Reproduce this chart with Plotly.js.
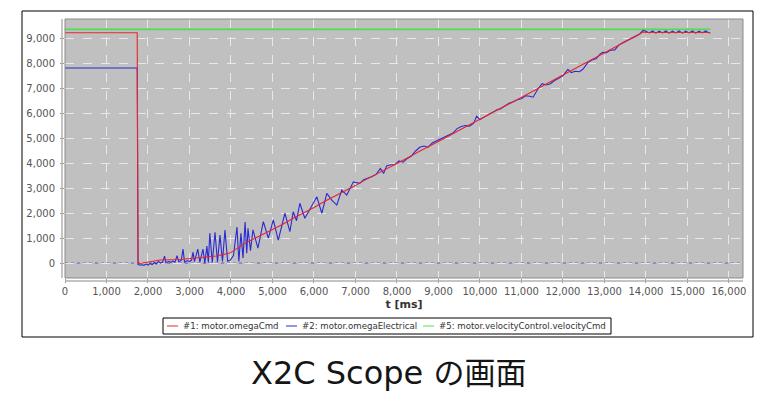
<!DOCTYPE html>
<html>
<head>
<meta charset="utf-8">
<script src="https://cdn.plot.ly/plotly-3.0.1.min.js"></script>
<style>
html,body{margin:0;padding:0;background:#fff;}
#chart{width:768px;height:395px;}
</style>
</head>
<body>
<div id="chart"></div>
<script>
// Series names
const seriesNames = ["#1: motor.omegaCmd", "#2: motor.omegaElectrical", "#5: motor.velocityControl.velocityCmd"];
const seriesColors = ['#e8242c', '#2a2ad0', '#52dc52'];

// #1 omegaCmd (red)
const cmdT = [0, 1740, 1760, 1850, 2050, 2290, 2770, 3170, 3650, 3975, 4300, 4700, 5000, 5250, 5500, 5750, 6000, 6250, 6500, 6750, 7000, 7250, 7500, 7750, 8000, 8250, 8500, 8750, 9000, 9250, 9500, 9750, 10000, 10250, 10500, 10750, 11000, 11250, 11500, 11750, 12000, 12250, 12500, 12750, 13000, 13250, 13500, 13750, 13930, 14000, 14500, 15000, 15550];
const cmdV = [9250, 9250, -20, -10, 50, 120, 140, 215, 280, 400, 760, 1100, 1350, 1560, 1800, 2010, 2230, 2470, 2680, 2900, 3110, 3350, 3560, 3790, 4010, 4220, 4450, 4660, 4890, 5100, 5330, 5560, 5780, 6000, 6220, 6430, 6660, 6880, 7110, 7330, 7550, 7770, 8000, 8210, 8440, 8660, 8890, 9100, 9280, 9260, 9260, 9255, 9260];

// #2 omegaElectrical (blue)
const elecT = [0, 1740, 1760, 1800, 1850, 1900, 1950, 2000, 2050, 2100, 2150, 2200, 2250, 2300, 2350, 2400, 2430, 2500, 2550, 2600, 2650, 2700, 2740, 2800, 2845, 2880, 2950, 3000, 3050, 3085, 3120, 3200, 3250, 3325, 3370, 3420, 3455, 3490, 3550, 3615, 3675, 3735, 3795, 3855, 3920, 3975, 4060, 4145, 4190, 4240, 4290, 4340, 4380, 4410, 4470, 4530, 4650, 4780, 4900, 5020, 5140, 5300, 5420, 5500, 5580, 5660, 5780, 5950, 6070, 6190, 6310, 6430, 6550, 6670, 6790, 6950, 7100, 7200, 7300, 7400, 7500, 7600, 7680, 7750, 7850, 7950, 8050, 8150, 8250, 8350, 8450, 8550, 8650, 8750, 8850, 8950, 9050, 9150, 9250, 9350, 9450, 9550, 9650, 9750, 9850, 9920, 10000, 10100, 10200, 10300, 10400, 10500, 10600, 10700, 10800, 10900, 11000, 11100, 11200, 11280, 11400, 11500, 11600, 11700, 11800, 11900, 12000, 12120, 12200, 12300, 12400, 12480, 12600, 12700, 12800, 12900, 12960, 13050, 13150, 13250, 13350, 13450, 13550, 13650, 13750, 13850, 13930, 14000, 14080, 14160, 14240, 14320, 14400, 14480, 14560, 14640, 14720, 14800, 14880, 14960, 15040, 15120, 15200, 15280, 15360, 15440, 15520, 15550];
const elecV = [7830, 7830, -60, -80, -70, -90, -40, -80, -20, -60, 20, -40, 60, 0, 40, 280, 20, 60, 30, 80, 40, 300, 60, 100, 560, 40, 100, 60, 120, 440, 60, 560, 40, 560, 0, 680, 20, 1200, 20, 1240, 40, 1120, 60, 1330, 80, 100, 300, 1450, 60, 1200, 200, 1650, 400, 1400, 500, 1330, 600, 1660, 1000, 1730, 920, 2000, 1260, 2060, 1700, 2400, 1800, 2330, 2660, 2000, 2800, 2530, 2330, 2930, 2730, 3260, 3200, 3350, 3400, 3480, 3560, 3800, 3600, 3900, 3950, 3950, 4100, 4050, 4200, 4300, 4500, 4650, 4700, 4650, 4820, 4900, 4950, 5060, 5130, 5220, 5400, 5480, 5520, 5500, 5620, 5900, 5760, 5860, 5980, 6050, 6150, 6200, 6320, 6420, 6480, 6560, 6600, 6720, 6700, 6660, 7000, 7200, 7150, 7200, 7330, 7420, 7520, 7780, 7650, 7700, 7680, 7780, 8050, 8150, 8200, 8400, 8460, 8450, 8550, 8560, 8760, 8860, 8950, 9020, 9120, 9200, 9340, 9310, 9240, 9320, 9230, 9310, 9240, 9320, 9230, 9310, 9240, 9320, 9230, 9310, 9240, 9320, 9230, 9310, 9240, 9320, 9240, 9250];

// #5 velocityCmd (green)
const velT = [0, 15550];
const velV = [9380, 9380];

const xTickVals = [0,1000,2000,3000,4000,5000,6000,7000,8000,9000,10000,11000,12000,13000,14000,15000,16000];
const yTickVals = [0,1000,2000,3000,4000,5000,6000,7000,8000,9000];

const traces = [
  {x: velT, y: velV, name: seriesNames[2], type: 'scatter', mode: 'lines', line: {color: seriesColors[2], width: 1.7}},
  {x: elecT, y: elecV, name: seriesNames[1], type: 'scatter', mode: 'lines', line: {color: seriesColors[1], width: 1.1}},
  {x: cmdT, y: cmdV, name: seriesNames[0], type: 'scatter', mode: 'lines', line: {color: seriesColors[0], width: 1.1}}
];

// plot area: left 65, right 743, top 19, bottom 278
const L = 65, R = 743, T = 19, B = 278, PW = R - L, PH = B - T;
const px = v => (v - L) / PW;
const py = v => (B - v) / PH;

// hand-drawn legend box (pixel layout)
const legBox = {x0: 163, x1: 611, y0: 318, y1: 334};
const legItems = [
  {lx: 167, tx: 181},
  {lx: 286, tx: 300},
  {lx: 423, tx: 437}
];
const legY = 326;

const shapes = [
  // outer frame
  {type: 'rect', xref: 'paper', yref: 'paper', x0: px(22), x1: px(753), y0: py(337), y1: py(11), line: {color: '#000', width: 1}, layer: 'below'},
  // plot border
  {type: 'rect', xref: 'paper', yref: 'paper', x0: 0, x1: 1, y0: 0, y1: 1, line: {color: '#8a8a8a', width: 1}},
  // offset axis lines
  {type: 'line', xref: 'paper', yref: 'paper', x0: px(62), x1: px(62), y0: 0, y1: 1, line: {color: '#b0b0b0', width: 1.5}},
  {type: 'line', xref: 'paper', yref: 'paper', x0: 0, x1: 1, y0: py(281), y1: py(281), line: {color: '#b0b0b0', width: 1.5}},
  // zero reference line
  {type: 'line', xref: 'paper', yref: 'y', x0: 0, x1: 1, y0: 0, y1: 0, line: {color: '#5a5ad8', width: 1, dash: 'dot'}, layer: 'below'},
  // legend box
  {type: 'rect', xref: 'paper', yref: 'paper', x0: px(legBox.x0), x1: px(legBox.x1), y0: py(legBox.y1), y1: py(legBox.y0), line: {color: '#000', width: 1}, fillcolor: '#fff'}
];
const annotations = [
  {text: 'X2C Scope <span style="font-family:Noto Sans CJK JP;font-size:31px">の画面</span>', xref: 'paper', yref: 'paper', x: px(388), y: py(370), xanchor: 'center', yanchor: 'middle', showarrow: false,
   font: {family: 'DejaVu Sans, sans-serif', size: 32, color: '#151515'}}
];
legItems.forEach((it, i) => {
  shapes.push({type: 'line', xref: 'paper', yref: 'paper', x0: px(it.lx), x1: px(it.lx + 11), y0: py(legY), y1: py(legY), line: {color: seriesColors[i], width: 1}});
  annotations.push({text: seriesNames[i], xref: 'paper', yref: 'paper', x: px(it.tx), y: py(legY), xanchor: 'left', yanchor: 'middle', showarrow: false,
    font: {family: 'DejaVu Sans, sans-serif', size: 8.6, color: '#333'}});
});

const layout = {
  width: 768, height: 395,
  margin: {l: L, r: 768 - R, t: T, b: 395 - B, pad: 0},
  paper_bgcolor: '#ffffff',
  plot_bgcolor: '#c0c0c0',
  font: {family: 'DejaVu Sans, sans-serif', size: 10, color: '#555'},
  showlegend: false,
  xaxis: {
    range: [0, 16340], tickvals: xTickVals, tickformat: ',d',
    showgrid: true, gridcolor: '#e8e8e8', griddash: 'dash', gridwidth: 1,
    zeroline: false, showline: false,
    ticks: 'outside', ticklen: 4, tickcolor: '#999', tickfont: {size: 10, color: '#555'},
    title: {text: 't [ms]', font: {size: 11, color: '#333', family: 'DejaVu Sans, sans-serif', weight: 'bold'}, standoff: 4}
  },
  yaxis: {
    range: [-600, 9800], tickvals: yTickVals, tickformat: ',d',
    showgrid: true, gridcolor: '#e8e8e8', griddash: 'dash', gridwidth: 1,
    zeroline: false, showline: false,
    ticks: 'outside', ticklen: 4, tickcolor: '#999', tickfont: {size: 10, color: '#555'},
    ticklabelstandoff: 3
  },
  shapes: shapes,
  annotations: annotations
};

Plotly.newPlot('chart', traces, layout, {displayModeBar: false, staticPlot: true});
</script>
</body>
</html>
